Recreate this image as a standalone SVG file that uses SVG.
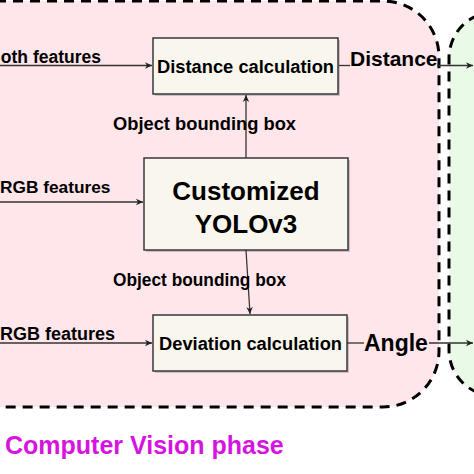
<svg xmlns="http://www.w3.org/2000/svg" width="474" height="474" viewBox="0 0 474 474">
<style>
.region{stroke:#000;stroke-width:3;stroke-dasharray:10 7;}
.box{fill:#f9f7ed;stroke:#36393d;stroke-width:1.5;}
.shadow{fill:#000;opacity:0.18;}
.t{font-family:"Liberation Sans",Arial,sans-serif;font-weight:bold;fill:#000;}
.edge{stroke:#333;stroke-width:1.3;fill:none;}
</style>
<defs>
<marker id="arr" markerWidth="8" markerHeight="8" refX="7" refY="4" orient="auto" markerUnits="userSpaceOnUse">
<path d="M0,0.8 L7,4 L0,7.2 L2,4 Z" fill="#222"/>
</marker>
</defs>
<rect width="474" height="474" fill="#fff"/>
<g id="cv-phase">
<rect class="region" x="-60" y="1" width="499" height="406" rx="56" ry="56" fill="#ffe6ea"/>
</g>
<g id="next-phase">
<rect class="region" x="449" y="12" width="120" height="384" rx="46" ry="46" fill="#e9fbe6"/>
</g>
<g id="distance-calc">
<rect class="shadow" x="155" y="40" width="185" height="56"/>
<rect class="box" x="153" y="38" width="185" height="56"/>
<text class="t" x="245.5" y="73" font-size="18" text-anchor="middle" textLength="177" lengthAdjust="spacingAndGlyphs">Distance calculation</text>
</g>
<g id="yolo">
<rect class="shadow" x="146" y="160" width="204" height="92"/>
<rect class="box" x="144" y="158" width="204" height="92"/>
<text class="t" x="246" y="200" font-size="26" text-anchor="middle">Customized</text>
<text class="t" x="246" y="233" font-size="26" text-anchor="middle">YOLOv3</text>
</g>
<g id="deviation-calc">
<rect class="shadow" x="155" y="317" width="194" height="56"/>
<rect class="box" x="153" y="315" width="194" height="56"/>
<text class="t" x="250.5" y="350" font-size="18" text-anchor="middle" textLength="183" lengthAdjust="spacingAndGlyphs">Deviation calculation</text>
</g>
<g id="connectors">
<line class="edge" x1="0" y1="65.5" x2="152" y2="65.5" marker-end="url(#arr)"/>
<text class="t" x="101" y="63" font-size="17.5" text-anchor="end">oth features</text>
<line class="edge" x1="339" y1="65.5" x2="350" y2="65.5"/>
<line class="edge" x1="437" y1="65.5" x2="473" y2="65.5" marker-end="url(#arr)"/>
<text class="t" x="350" y="66" font-size="21">Distance</text>
<line class="edge" x1="246" y1="158" x2="246" y2="95" marker-end="url(#arr)"/>
<text class="t" x="113" y="130" font-size="18" textLength="183" lengthAdjust="spacingAndGlyphs">Object bounding box</text>
<line class="edge" x1="0" y1="202" x2="143" y2="202" marker-end="url(#arr)"/>
<text class="t" x="0" y="193" font-size="17.3">RGB features</text>
<line class="edge" x1="246" y1="250" x2="250" y2="314" marker-end="url(#arr)"/>
<text class="t" x="113" y="286" font-size="17.5" textLength="173" lengthAdjust="spacingAndGlyphs">Object bounding box</text>
<line class="edge" x1="0" y1="343" x2="152" y2="343" marker-end="url(#arr)"/>
<text class="t" x="0" y="340" font-size="18">RGB features</text>
<line class="edge" x1="347" y1="343" x2="364" y2="343"/>
<line class="edge" x1="429" y1="343" x2="473" y2="343" marker-end="url(#arr)"/>
<text class="t" x="364" y="351" font-size="23">Angle</text>
</g>
<text x="5" y="454" font-family="'Liberation Sans',Arial,sans-serif" font-weight="bold" font-size="25" fill="#d614e0">Computer Vision phase</text>
</svg>
